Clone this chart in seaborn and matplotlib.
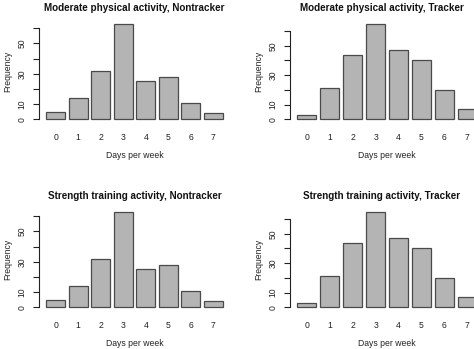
import matplotlib
matplotlib.use("Agg")
import matplotlib.pyplot as plt
import seaborn as sns
import pandas as pd

days = [0, 1, 2, 3, 4, 5, 6, 7]
moderate_nontracker = [5, 14, 32, 63, 25, 28, 11, 4]
moderate_tracker = [3, 21, 44, 65, 47, 40, 20, 7]
strength_nontracker = [5, 14, 32, 63, 25, 28, 11, 4]
strength_tracker = [3, 21, 44, 65, 47, 40, 20, 7]
titles = ["Moderate physical activity, Nontracker",
          "Moderate physical activity, Tracker",
          "Strength training activity, Nontracker",
          "Strength training activity, Tracker"]
yticks = [0, 10, 20, 30, 40, 50, 60]
yticklabels = ["0", "10", "", "30", "", "50", ""]
xlabel = "Days per week"
ylabel = "Frequency"

sns.set_style("white")
plt.rcParams['font.family'] = ['Liberation Sans', 'DejaVu Sans']

W, H = 474, 349
fig = plt.figure(figsize=(W / 100, H / 100), dpi=100)

# panel pixel boxes: (left, top, right, bottom)
boxes = [(39, 20, 230, 123), (290, 20, 484, 123),
         (39, 208, 230, 311), (290, 208, 484, 311)]
series = [moderate_nontracker, moderate_tracker, strength_nontracker, strength_tracker]

for (l, t, r, b), vals, title in zip(boxes, series, titles):
    ax = fig.add_axes([l / W, 1 - b / H, (r - l) / W, (b - t) / H])
    df = pd.DataFrame({"days": days, "freq": vals})
    sns.barplot(data=df, x="days", y="freq", ax=ax, width=0.833,
                color="#b4b4b4", saturation=1, edgecolor="#4a4a4a",
                linewidth=0.9)
    m = max(vals)
    ax.set_ylim(-0.04 * m, 1.04 * m)
    ax.set_xlim(-0.737, 7.737)
    for s in ["top", "right", "bottom"]:
        ax.spines[s].set_visible(False)
    ax.spines["left"].set_bounds(0, 60)
    ax.spines["left"].set_color("#222222")
    ax.spines["left"].set_linewidth(0.8)
    ax.set_yticks(yticks)
    ax.set_yticklabels(yticklabels, rotation=90, va="center", fontsize=6.2,
                       color="#222222")
    ax.tick_params(axis="y", length=4, width=0.8, color="#222222", pad=5,
                   left=True)
    ax.tick_params(axis="x", length=0, pad=7, labelsize=6.2,
                   labelcolor="#222222")
    ax.set_xlabel(xlabel, fontsize=6.2, labelpad=6.5, color="#222222")
    ax.set_ylabel(ylabel, fontsize=6.2, labelpad=4, color="#222222")
    ax.set_title(title, fontsize=7.15, fontweight="bold", pad=6.5, color="#111111",
                 x=(134.5 - l) / (r - l) if l < 100 else (382 - l) / (r - l))

fig.savefig("out.png", dpi=100)
